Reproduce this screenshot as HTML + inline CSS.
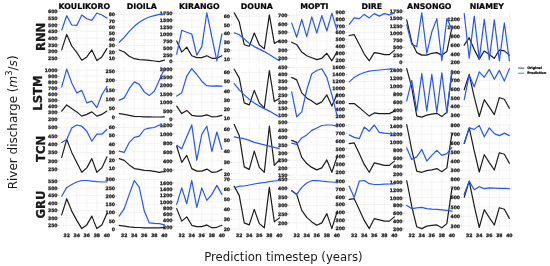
<!DOCTYPE html>
<html><head><meta charset="utf-8"><title>River discharge predictions</title>
<style>html,body{margin:0;padding:0;background:#fff;}svg{display:block;}</style>
</head><body>
<svg width="550" height="266" viewBox="0 0 550 266">
<rect width="550" height="266" fill="#fff"/>
<path d="M66.72 10.6V63.1M76.76 10.6V63.1M86.8 10.6V63.1M96.84 10.6V63.1M106.88 10.6V63.1M59.44 11.2H109.14M59.44 17.9H109.14M59.44 24.6H109.14M59.44 31.3H109.14M59.44 38H109.14M59.44 44.7H109.14M59.44 51.4H109.14M59.44 58.1H109.14M124.22 10.6V63.1M134.26 10.6V63.1M144.3 10.6V63.1M154.34 10.6V63.1M164.38 10.6V63.1M116.94 14.5H166.64M116.94 20.7H166.64M116.94 26.9H166.64M116.94 33.1H166.64M116.94 39.3H166.64M116.94 45.5H166.64M116.94 51.7H166.64M116.94 57.9H166.64M181.72 10.6V63.1M191.76 10.6V63.1M201.8 10.6V63.1M211.84 10.6V63.1M221.88 10.6V63.1M174.44 13.3H224.14M174.44 20.19H224.14M174.44 27.07H224.14M174.44 33.96H224.14M174.44 40.84H224.14M174.44 47.73H224.14M174.44 54.61H224.14M174.44 61.5H224.14M239.22 10.6V63.1M249.26 10.6V63.1M259.3 10.6V63.1M269.34 10.6V63.1M279.38 10.6V63.1M231.94 16.4H281.64M231.94 24.88H281.64M231.94 33.36H281.64M231.94 41.84H281.64M231.94 50.32H281.64M231.94 58.8H281.64M296.72 10.6V63.1M306.76 10.6V63.1M316.8 10.6V63.1M326.84 10.6V63.1M336.88 10.6V63.1M289.44 15.4H339.14M289.44 23.98H339.14M289.44 32.56H339.14M289.44 41.14H339.14M289.44 49.72H339.14M289.44 58.3H339.14M354.22 10.6V63.1M364.26 10.6V63.1M374.3 10.6V63.1M384.34 10.6V63.1M394.38 10.6V63.1M346.94 11.9H396.64M346.94 18.77H396.64M346.94 25.64H396.64M346.94 32.51H396.64M346.94 39.39H396.64M346.94 46.26H396.64M346.94 53.13H396.64M346.94 60H396.64M411.72 10.6V63.1M421.76 10.6V63.1M431.8 10.6V63.1M441.84 10.6V63.1M451.88 10.6V63.1M404.44 11.2H454.14M404.44 18.46H454.14M404.44 25.71H454.14M404.44 32.97H454.14M404.44 40.23H454.14M404.44 47.49H454.14M404.44 54.74H454.14M404.44 62H454.14M469.22 10.6V63.1M479.26 10.6V63.1M489.3 10.6V63.1M499.34 10.6V63.1M509.38 10.6V63.1M461.94 18.6H511.64M461.94 27.38H511.64M461.94 36.16H511.64M461.94 44.94H511.64M461.94 53.72H511.64M461.94 62.5H511.64M66.72 66.9V119.4M76.76 66.9V119.4M86.8 66.9V119.4M96.84 66.9V119.4M106.88 66.9V119.4M59.44 70H109.14M59.44 76.08H109.14M59.44 82.15H109.14M59.44 88.22H109.14M59.44 94.3H109.14M59.44 100.38H109.14M59.44 106.45H109.14M59.44 112.52H109.14M59.44 118.6H109.14M124.22 66.9V119.4M134.26 66.9V119.4M144.3 66.9V119.4M154.34 66.9V119.4M164.38 66.9V119.4M116.94 71.2H166.64M116.94 80.46H166.64M116.94 89.72H166.64M116.94 98.98H166.64M116.94 108.24H166.64M116.94 117.5H166.64M181.72 66.9V119.4M191.76 66.9V119.4M201.8 66.9V119.4M211.84 66.9V119.4M221.88 66.9V119.4M174.44 68.7H224.14M174.44 77.1H224.14M174.44 85.5H224.14M174.44 93.9H224.14M174.44 102.3H224.14M174.44 110.7H224.14M174.44 119.1H224.14M239.22 66.9V119.4M249.26 66.9V119.4M259.3 66.9V119.4M269.34 66.9V119.4M279.38 66.9V119.4M231.94 72.5H281.64M231.94 81.56H281.64M231.94 90.62H281.64M231.94 99.68H281.64M231.94 108.74H281.64M231.94 117.8H281.64M296.72 66.9V119.4M306.76 66.9V119.4M316.8 66.9V119.4M326.84 66.9V119.4M336.88 66.9V119.4M289.44 67.5H339.14M289.44 74.33H339.14M289.44 81.16H339.14M289.44 87.99H339.14M289.44 94.81H339.14M289.44 101.64H339.14M289.44 108.47H339.14M289.44 115.3H339.14M354.22 66.9V119.4M364.26 66.9V119.4M374.3 66.9V119.4M384.34 66.9V119.4M394.38 66.9V119.4M346.94 67.5H396.64M346.94 74.44H396.64M346.94 81.39H396.64M346.94 88.33H396.64M346.94 95.27H396.64M346.94 102.21H396.64M346.94 109.16H396.64M346.94 116.1H396.64M411.72 66.9V119.4M421.76 66.9V119.4M431.8 66.9V119.4M441.84 66.9V119.4M451.88 66.9V119.4M404.44 70.4H454.14M404.44 78.3H454.14M404.44 86.2H454.14M404.44 94.1H454.14M404.44 102H454.14M404.44 109.9H454.14M404.44 117.8H454.14M469.22 66.9V119.4M479.26 66.9V119.4M489.3 66.9V119.4M499.34 66.9V119.4M509.38 66.9V119.4M461.94 71.9H511.64M461.94 80.52H511.64M461.94 89.14H511.64M461.94 97.76H511.64M461.94 106.38H511.64M461.94 115H511.64M66.72 122.6V175.1M76.76 122.6V175.1M86.8 122.6V175.1M96.84 122.6V175.1M106.88 122.6V175.1M59.44 127.5H109.14M59.44 135.82H109.14M59.44 144.14H109.14M59.44 152.46H109.14M59.44 160.78H109.14M59.44 169.1H109.14M124.22 122.6V175.1M134.26 122.6V175.1M144.3 122.6V175.1M154.34 122.6V175.1M164.38 122.6V175.1M116.94 127.5H166.64M116.94 135.58H166.64M116.94 143.66H166.64M116.94 151.74H166.64M116.94 159.82H166.64M116.94 167.9H166.64M181.72 122.6V175.1M191.76 122.6V175.1M201.8 122.6V175.1M211.84 122.6V175.1M221.88 122.6V175.1M174.44 125H224.14M174.44 133.98H224.14M174.44 142.96H224.14M174.44 151.94H224.14M174.44 160.92H224.14M174.44 169.9H224.14M239.22 122.6V175.1M249.26 122.6V175.1M259.3 122.6V175.1M269.34 122.6V175.1M279.38 122.6V175.1M231.94 128.7H281.64M231.94 139.92H281.64M231.94 151.15H281.64M231.94 162.38H281.64M231.94 173.6H281.64M296.72 122.6V175.1M306.76 122.6V175.1M316.8 122.6V175.1M326.84 122.6V175.1M336.88 122.6V175.1M289.44 122.5H339.14M289.44 130.04H339.14M289.44 137.59H339.14M289.44 145.13H339.14M289.44 152.67H339.14M289.44 160.21H339.14M289.44 167.76H339.14M289.44 175.3H339.14M354.22 122.6V175.1M364.26 122.6V175.1M374.3 122.6V175.1M384.34 122.6V175.1M394.38 122.6V175.1M346.94 125.5H396.64M346.94 133.22H396.64M346.94 140.93H396.64M346.94 148.65H396.64M346.94 156.37H396.64M346.94 164.08H396.64M346.94 171.8H396.64M411.72 122.6V175.1M421.76 122.6V175.1M431.8 122.6V175.1M441.84 122.6V175.1M451.88 122.6V175.1M404.44 126.2H454.14M404.44 134.13H454.14M404.44 142.07H454.14M404.44 150H454.14M404.44 157.93H454.14M404.44 165.87H454.14M404.44 173.8H454.14M469.22 122.6V175.1M479.26 122.6V175.1M489.3 122.6V175.1M499.34 122.6V175.1M509.38 122.6V175.1M461.94 124.9H511.64M461.94 133.98H511.64M461.94 143.06H511.64M461.94 152.14H511.64M461.94 161.22H511.64M461.94 170.3H511.64M66.72 178.3V230.8M76.76 178.3V230.8M86.8 178.3V230.8M96.84 178.3V230.8M106.88 178.3V230.8M59.44 180.7H109.14M59.44 188.13H109.14M59.44 195.57H109.14M59.44 203H109.14M59.44 210.43H109.14M59.44 217.87H109.14M59.44 225.3H109.14M124.22 178.3V230.8M134.26 178.3V230.8M144.3 178.3V230.8M154.34 178.3V230.8M164.38 178.3V230.8M116.94 179.5H166.64M116.94 187.77H166.64M116.94 196.03H166.64M116.94 204.3H166.64M116.94 212.57H166.64M116.94 220.83H166.64M116.94 229.1H166.64M181.72 178.3V230.8M191.76 178.3V230.8M201.8 178.3V230.8M211.84 178.3V230.8M221.88 178.3V230.8M174.44 183H224.14M174.44 189.23H224.14M174.44 195.46H224.14M174.44 201.69H224.14M174.44 207.91H224.14M174.44 214.14H224.14M174.44 220.37H224.14M174.44 226.6H224.14M239.22 178.3V230.8M249.26 178.3V230.8M259.3 178.3V230.8M269.34 178.3V230.8M279.38 178.3V230.8M231.94 179.5H281.64M231.94 189.42H281.64M231.94 199.34H281.64M231.94 209.26H281.64M231.94 219.18H281.64M231.94 229.1H281.64M296.72 178.3V230.8M306.76 178.3V230.8M316.8 178.3V230.8M326.84 178.3V230.8M336.88 178.3V230.8M289.44 179.5H339.14M289.44 188.18H339.14M289.44 196.86H339.14M289.44 205.54H339.14M289.44 214.22H339.14M289.44 222.9H339.14M354.22 178.3V230.8M364.26 178.3V230.8M374.3 178.3V230.8M384.34 178.3V230.8M394.38 178.3V230.8M346.94 181.2H396.64M346.94 188.97H396.64M346.94 196.73H396.64M346.94 204.5H396.64M346.94 212.27H396.64M346.94 220.03H396.64M346.94 227.8H396.64M411.72 178.3V230.8M421.76 178.3V230.8M431.8 178.3V230.8M441.84 178.3V230.8M451.88 178.3V230.8M404.44 182H454.14M404.44 189.8H454.14M404.44 197.6H454.14M404.44 205.4H454.14M404.44 213.2H454.14M404.44 221H454.14M404.44 228.8H454.14M469.22 178.3V230.8M479.26 178.3V230.8M489.3 178.3V230.8M499.34 178.3V230.8M509.38 178.3V230.8M461.94 178.6H511.64M461.94 188.04H511.64M461.94 197.48H511.64M461.94 206.92H511.64M461.94 216.36H511.64M461.94 225.8H511.64" stroke="#f0f0f0" stroke-width="0.8" fill="none"/>
<path d="M58.24 11.2H59.44M58.24 17.9H59.44M58.24 24.6H59.44M58.24 31.3H59.44M58.24 38H59.44M58.24 44.7H59.44M58.24 51.4H59.44M58.24 58.1H59.44M115.74 14.5H116.94M115.74 20.7H116.94M115.74 26.9H116.94M115.74 33.1H116.94M115.74 39.3H116.94M115.74 45.5H116.94M115.74 51.7H116.94M115.74 57.9H116.94M173.24 13.3H174.44M173.24 20.19H174.44M173.24 27.07H174.44M173.24 33.96H174.44M173.24 40.84H174.44M173.24 47.73H174.44M173.24 54.61H174.44M173.24 61.5H174.44M230.74 16.4H231.94M230.74 24.88H231.94M230.74 33.36H231.94M230.74 41.84H231.94M230.74 50.32H231.94M230.74 58.8H231.94M288.24 15.4H289.44M288.24 23.98H289.44M288.24 32.56H289.44M288.24 41.14H289.44M288.24 49.72H289.44M288.24 58.3H289.44M345.74 11.9H346.94M345.74 18.77H346.94M345.74 25.64H346.94M345.74 32.51H346.94M345.74 39.39H346.94M345.74 46.26H346.94M345.74 53.13H346.94M345.74 60H346.94M403.24 11.2H404.44M403.24 18.46H404.44M403.24 25.71H404.44M403.24 32.97H404.44M403.24 40.23H404.44M403.24 47.49H404.44M403.24 54.74H404.44M403.24 62H404.44M460.74 18.6H461.94M460.74 27.38H461.94M460.74 36.16H461.94M460.74 44.94H461.94M460.74 53.72H461.94M460.74 62.5H461.94M58.24 70H59.44M58.24 76.08H59.44M58.24 82.15H59.44M58.24 88.22H59.44M58.24 94.3H59.44M58.24 100.38H59.44M58.24 106.45H59.44M58.24 112.52H59.44M58.24 118.6H59.44M115.74 71.2H116.94M115.74 80.46H116.94M115.74 89.72H116.94M115.74 98.98H116.94M115.74 108.24H116.94M115.74 117.5H116.94M173.24 68.7H174.44M173.24 77.1H174.44M173.24 85.5H174.44M173.24 93.9H174.44M173.24 102.3H174.44M173.24 110.7H174.44M173.24 119.1H174.44M230.74 72.5H231.94M230.74 81.56H231.94M230.74 90.62H231.94M230.74 99.68H231.94M230.74 108.74H231.94M230.74 117.8H231.94M288.24 67.5H289.44M288.24 74.33H289.44M288.24 81.16H289.44M288.24 87.99H289.44M288.24 94.81H289.44M288.24 101.64H289.44M288.24 108.47H289.44M288.24 115.3H289.44M345.74 67.5H346.94M345.74 74.44H346.94M345.74 81.39H346.94M345.74 88.33H346.94M345.74 95.27H346.94M345.74 102.21H346.94M345.74 109.16H346.94M345.74 116.1H346.94M403.24 70.4H404.44M403.24 78.3H404.44M403.24 86.2H404.44M403.24 94.1H404.44M403.24 102H404.44M403.24 109.9H404.44M403.24 117.8H404.44M460.74 71.9H461.94M460.74 80.52H461.94M460.74 89.14H461.94M460.74 97.76H461.94M460.74 106.38H461.94M460.74 115H461.94M58.24 127.5H59.44M58.24 135.82H59.44M58.24 144.14H59.44M58.24 152.46H59.44M58.24 160.78H59.44M58.24 169.1H59.44M115.74 127.5H116.94M115.74 135.58H116.94M115.74 143.66H116.94M115.74 151.74H116.94M115.74 159.82H116.94M115.74 167.9H116.94M173.24 125H174.44M173.24 133.98H174.44M173.24 142.96H174.44M173.24 151.94H174.44M173.24 160.92H174.44M173.24 169.9H174.44M230.74 128.7H231.94M230.74 139.92H231.94M230.74 151.15H231.94M230.74 162.38H231.94M230.74 173.6H231.94M288.24 122.5H289.44M288.24 130.04H289.44M288.24 137.59H289.44M288.24 145.13H289.44M288.24 152.67H289.44M288.24 160.21H289.44M288.24 167.76H289.44M288.24 175.3H289.44M345.74 125.5H346.94M345.74 133.22H346.94M345.74 140.93H346.94M345.74 148.65H346.94M345.74 156.37H346.94M345.74 164.08H346.94M345.74 171.8H346.94M403.24 126.2H404.44M403.24 134.13H404.44M403.24 142.07H404.44M403.24 150H404.44M403.24 157.93H404.44M403.24 165.87H404.44M403.24 173.8H404.44M460.74 124.9H461.94M460.74 133.98H461.94M460.74 143.06H461.94M460.74 152.14H461.94M460.74 161.22H461.94M460.74 170.3H461.94M58.24 180.7H59.44M58.24 188.13H59.44M58.24 195.57H59.44M58.24 203H59.44M58.24 210.43H59.44M58.24 217.87H59.44M58.24 225.3H59.44M115.74 179.5H116.94M115.74 187.77H116.94M115.74 196.03H116.94M115.74 204.3H116.94M115.74 212.57H116.94M115.74 220.83H116.94M115.74 229.1H116.94M173.24 183H174.44M173.24 189.23H174.44M173.24 195.46H174.44M173.24 201.69H174.44M173.24 207.91H174.44M173.24 214.14H174.44M173.24 220.37H174.44M173.24 226.6H174.44M230.74 179.5H231.94M230.74 189.42H231.94M230.74 199.34H231.94M230.74 209.26H231.94M230.74 219.18H231.94M230.74 229.1H231.94M288.24 179.5H289.44M288.24 188.18H289.44M288.24 196.86H289.44M288.24 205.54H289.44M288.24 214.22H289.44M288.24 222.9H289.44M345.74 181.2H346.94M345.74 188.97H346.94M345.74 196.73H346.94M345.74 204.5H346.94M345.74 212.27H346.94M345.74 220.03H346.94M345.74 227.8H346.94M403.24 182H404.44M403.24 189.8H404.44M403.24 197.6H404.44M403.24 205.4H404.44M403.24 213.2H404.44M403.24 221H404.44M403.24 228.8H404.44M460.74 178.6H461.94M460.74 188.04H461.94M460.74 197.48H461.94M460.74 206.92H461.94M460.74 216.36H461.94M460.74 225.8H461.94" stroke="#9a9a9a" stroke-width="0.6" fill="none"/>
<g fill="#262626" font-family="DejaVu Sans, sans-serif" font-weight="bold" font-size="4.6" text-anchor="end" stroke="#262626" stroke-width="0.3">
<text x="57.54" y="13.1">600</text>
<text x="57.54" y="19.8">550</text>
<text x="57.54" y="26.5">500</text>
<text x="57.54" y="33.2">450</text>
<text x="57.54" y="39.9">400</text>
<text x="57.54" y="46.6">350</text>
<text x="57.54" y="53.3">300</text>
<text x="57.54" y="60">250</text>
<text x="115.04" y="16.4">80</text>
<text x="115.04" y="22.6">70</text>
<text x="115.04" y="28.8">60</text>
<text x="115.04" y="35">50</text>
<text x="115.04" y="41.2">40</text>
<text x="115.04" y="47.4">30</text>
<text x="115.04" y="53.6">20</text>
<text x="115.04" y="59.8">10</text>
<text x="172.54" y="15.2">1750</text>
<text x="172.54" y="22.09">1500</text>
<text x="172.54" y="28.97">1250</text>
<text x="172.54" y="35.86">1000</text>
<text x="172.54" y="42.74">750</text>
<text x="172.54" y="49.63">500</text>
<text x="172.54" y="56.51">250</text>
<text x="172.54" y="63.4">0</text>
<text x="230.04" y="18.3">60</text>
<text x="230.04" y="26.78">50</text>
<text x="230.04" y="35.26">40</text>
<text x="230.04" y="43.74">30</text>
<text x="230.04" y="52.22">20</text>
<text x="230.04" y="60.7">10</text>
<text x="287.54" y="17.3">700</text>
<text x="287.54" y="25.88">600</text>
<text x="287.54" y="34.46">500</text>
<text x="287.54" y="43.04">400</text>
<text x="287.54" y="51.62">300</text>
<text x="287.54" y="60.2">200</text>
<text x="345.04" y="13.8">900</text>
<text x="345.04" y="20.67">800</text>
<text x="345.04" y="27.54">700</text>
<text x="345.04" y="34.41">600</text>
<text x="345.04" y="41.29">500</text>
<text x="345.04" y="48.16">400</text>
<text x="345.04" y="55.03">300</text>
<text x="345.04" y="61.9">200</text>
<text x="402.54" y="13.1">1750</text>
<text x="402.54" y="20.36">1500</text>
<text x="402.54" y="27.61">1250</text>
<text x="402.54" y="34.87">1000</text>
<text x="402.54" y="42.13">750</text>
<text x="402.54" y="49.39">500</text>
<text x="402.54" y="56.64">250</text>
<text x="402.54" y="63.9">0</text>
<text x="460.04" y="20.5">1200</text>
<text x="460.04" y="29.28">1000</text>
<text x="460.04" y="38.06">800</text>
<text x="460.04" y="46.84">600</text>
<text x="460.04" y="55.62">400</text>
<text x="460.04" y="64.4">200</text>
<text x="57.54" y="71.9">1000</text>
<text x="57.54" y="77.98">900</text>
<text x="57.54" y="84.05">800</text>
<text x="57.54" y="90.12">700</text>
<text x="57.54" y="96.2">600</text>
<text x="57.54" y="102.28">500</text>
<text x="57.54" y="108.35">400</text>
<text x="57.54" y="114.42">300</text>
<text x="57.54" y="120.5">200</text>
<text x="115.04" y="73.1">250</text>
<text x="115.04" y="82.36">200</text>
<text x="115.04" y="91.62">150</text>
<text x="115.04" y="100.88">100</text>
<text x="115.04" y="110.14">50</text>
<text x="115.04" y="119.4">0</text>
<text x="172.54" y="70.6">3000</text>
<text x="172.54" y="79">2500</text>
<text x="172.54" y="87.4">2000</text>
<text x="172.54" y="95.8">1500</text>
<text x="172.54" y="104.2">1000</text>
<text x="172.54" y="112.6">500</text>
<text x="172.54" y="121">0</text>
<text x="230.04" y="74.4">60</text>
<text x="230.04" y="83.46">50</text>
<text x="230.04" y="92.52">40</text>
<text x="230.04" y="101.58">30</text>
<text x="230.04" y="110.64">20</text>
<text x="230.04" y="119.7">10</text>
<text x="287.54" y="69.4">450</text>
<text x="287.54" y="76.23">400</text>
<text x="287.54" y="83.06">350</text>
<text x="287.54" y="89.89">300</text>
<text x="287.54" y="96.71">250</text>
<text x="287.54" y="103.54">200</text>
<text x="287.54" y="110.37">150</text>
<text x="287.54" y="117.2">100</text>
<text x="345.04" y="69.4">1600</text>
<text x="345.04" y="76.34">1400</text>
<text x="345.04" y="83.29">1200</text>
<text x="345.04" y="90.23">1000</text>
<text x="345.04" y="97.17">800</text>
<text x="345.04" y="104.11">600</text>
<text x="345.04" y="111.06">400</text>
<text x="345.04" y="118">200</text>
<text x="402.54" y="72.3">1400</text>
<text x="402.54" y="80.2">1200</text>
<text x="402.54" y="88.1">1000</text>
<text x="402.54" y="96">800</text>
<text x="402.54" y="103.9">600</text>
<text x="402.54" y="111.8">400</text>
<text x="402.54" y="119.7">200</text>
<text x="460.04" y="73.8">800</text>
<text x="460.04" y="82.42">700</text>
<text x="460.04" y="91.04">600</text>
<text x="460.04" y="99.66">500</text>
<text x="460.04" y="108.28">400</text>
<text x="460.04" y="116.9">300</text>
<text x="57.54" y="129.4">500</text>
<text x="57.54" y="137.72">450</text>
<text x="57.54" y="146.04">400</text>
<text x="57.54" y="154.36">350</text>
<text x="57.54" y="162.68">300</text>
<text x="57.54" y="171">250</text>
<text x="115.04" y="129.4">60</text>
<text x="115.04" y="137.48">50</text>
<text x="115.04" y="145.56">40</text>
<text x="115.04" y="153.64">30</text>
<text x="115.04" y="161.72">20</text>
<text x="115.04" y="169.8">10</text>
<text x="172.54" y="126.9">1200</text>
<text x="172.54" y="135.88">1000</text>
<text x="172.54" y="144.86">800</text>
<text x="172.54" y="153.84">600</text>
<text x="172.54" y="162.82">400</text>
<text x="172.54" y="171.8">200</text>
<text x="230.04" y="130.6">60</text>
<text x="230.04" y="141.82">50</text>
<text x="230.04" y="153.05">40</text>
<text x="230.04" y="164.28">30</text>
<text x="230.04" y="175.5">20</text>
<text x="287.54" y="124.4">500</text>
<text x="287.54" y="131.94">450</text>
<text x="287.54" y="139.49">400</text>
<text x="287.54" y="147.03">350</text>
<text x="287.54" y="154.57">300</text>
<text x="287.54" y="162.11">250</text>
<text x="287.54" y="169.66">200</text>
<text x="287.54" y="177.2">150</text>
<text x="345.04" y="127.4">800</text>
<text x="345.04" y="135.12">700</text>
<text x="345.04" y="142.83">600</text>
<text x="345.04" y="150.55">500</text>
<text x="345.04" y="158.27">400</text>
<text x="345.04" y="165.98">300</text>
<text x="345.04" y="173.7">200</text>
<text x="402.54" y="128.1">1400</text>
<text x="402.54" y="136.03">1200</text>
<text x="402.54" y="143.97">1000</text>
<text x="402.54" y="151.9">800</text>
<text x="402.54" y="159.83">600</text>
<text x="402.54" y="167.77">400</text>
<text x="402.54" y="175.7">200</text>
<text x="460.04" y="126.8">800</text>
<text x="460.04" y="135.88">700</text>
<text x="460.04" y="144.96">600</text>
<text x="460.04" y="154.04">500</text>
<text x="460.04" y="163.12">400</text>
<text x="460.04" y="172.2">300</text>
<text x="57.54" y="182.6">550</text>
<text x="57.54" y="190.03">500</text>
<text x="57.54" y="197.47">450</text>
<text x="57.54" y="204.9">400</text>
<text x="57.54" y="212.33">350</text>
<text x="57.54" y="219.77">300</text>
<text x="57.54" y="227.2">250</text>
<text x="66.72" y="237" text-anchor="middle">32</text>
<text x="76.76" y="237" text-anchor="middle">34</text>
<text x="86.8" y="237" text-anchor="middle">36</text>
<text x="96.84" y="237" text-anchor="middle">38</text>
<text x="106.88" y="237" text-anchor="middle">40</text>
<text x="115.04" y="181.4">300</text>
<text x="115.04" y="189.67">250</text>
<text x="115.04" y="197.93">200</text>
<text x="115.04" y="206.2">150</text>
<text x="115.04" y="214.47">100</text>
<text x="115.04" y="222.73">50</text>
<text x="115.04" y="231">0</text>
<text x="124.22" y="237" text-anchor="middle">32</text>
<text x="134.26" y="237" text-anchor="middle">34</text>
<text x="144.3" y="237" text-anchor="middle">36</text>
<text x="154.34" y="237" text-anchor="middle">38</text>
<text x="164.38" y="237" text-anchor="middle">40</text>
<text x="172.54" y="184.9">1600</text>
<text x="172.54" y="191.13">1400</text>
<text x="172.54" y="197.36">1200</text>
<text x="172.54" y="203.59">1000</text>
<text x="172.54" y="209.81">800</text>
<text x="172.54" y="216.04">600</text>
<text x="172.54" y="222.27">400</text>
<text x="172.54" y="228.5">200</text>
<text x="181.72" y="237" text-anchor="middle">32</text>
<text x="191.76" y="237" text-anchor="middle">34</text>
<text x="201.8" y="237" text-anchor="middle">36</text>
<text x="211.84" y="237" text-anchor="middle">38</text>
<text x="221.88" y="237" text-anchor="middle">40</text>
<text x="230.04" y="181.4">70</text>
<text x="230.04" y="191.32">60</text>
<text x="230.04" y="201.24">50</text>
<text x="230.04" y="211.16">40</text>
<text x="230.04" y="221.08">30</text>
<text x="230.04" y="231">20</text>
<text x="239.22" y="237" text-anchor="middle">32</text>
<text x="249.26" y="237" text-anchor="middle">34</text>
<text x="259.3" y="237" text-anchor="middle">36</text>
<text x="269.34" y="237" text-anchor="middle">38</text>
<text x="279.38" y="237" text-anchor="middle">40</text>
<text x="287.54" y="181.4">450</text>
<text x="287.54" y="190.08">400</text>
<text x="287.54" y="198.76">350</text>
<text x="287.54" y="207.44">300</text>
<text x="287.54" y="216.12">250</text>
<text x="287.54" y="224.8">200</text>
<text x="296.72" y="237" text-anchor="middle">32</text>
<text x="306.76" y="237" text-anchor="middle">34</text>
<text x="316.8" y="237" text-anchor="middle">36</text>
<text x="326.84" y="237" text-anchor="middle">38</text>
<text x="336.88" y="237" text-anchor="middle">40</text>
<text x="345.04" y="183.1">800</text>
<text x="345.04" y="190.87">700</text>
<text x="345.04" y="198.63">600</text>
<text x="345.04" y="206.4">500</text>
<text x="345.04" y="214.17">400</text>
<text x="345.04" y="221.93">300</text>
<text x="345.04" y="229.7">200</text>
<text x="354.22" y="237" text-anchor="middle">32</text>
<text x="364.26" y="237" text-anchor="middle">34</text>
<text x="374.3" y="237" text-anchor="middle">36</text>
<text x="384.34" y="237" text-anchor="middle">38</text>
<text x="394.38" y="237" text-anchor="middle">40</text>
<text x="402.54" y="183.9">1400</text>
<text x="402.54" y="191.7">1200</text>
<text x="402.54" y="199.5">1000</text>
<text x="402.54" y="207.3">800</text>
<text x="402.54" y="215.1">600</text>
<text x="402.54" y="222.9">400</text>
<text x="402.54" y="230.7">200</text>
<text x="411.72" y="237" text-anchor="middle">32</text>
<text x="421.76" y="237" text-anchor="middle">34</text>
<text x="431.8" y="237" text-anchor="middle">36</text>
<text x="441.84" y="237" text-anchor="middle">38</text>
<text x="451.88" y="237" text-anchor="middle">40</text>
<text x="460.04" y="180.5">800</text>
<text x="460.04" y="189.94">700</text>
<text x="460.04" y="199.38">600</text>
<text x="460.04" y="208.82">500</text>
<text x="460.04" y="218.26">400</text>
<text x="460.04" y="227.7">300</text>
<text x="469.22" y="237" text-anchor="middle">32</text>
<text x="479.26" y="237" text-anchor="middle">34</text>
<text x="489.3" y="237" text-anchor="middle">36</text>
<text x="499.34" y="237" text-anchor="middle">38</text>
<text x="509.38" y="237" text-anchor="middle">40</text>
</g>
<g fill="none" stroke-width="1.2" stroke-linejoin="round" stroke-linecap="round">
<polyline points="61.7,49.9 66.72,34.4 71.74,46 76.76,52.4 81.78,60.3 86.8,56.9 91.82,49.9 96.84,60.6 101.86,56.9 106.88,48.6" stroke="#1c1c1c"/>
<polyline points="61.7,30 66.72,15.7 71.74,25 76.76,25.4 81.78,15 86.8,18.7 91.82,20.4 96.84,13 101.86,15 106.88,18" stroke="#2356ff"/>
<polyline points="119.2,50 124.22,52 129.24,56.2 134.26,58.7 139.28,59.6 144.3,59.9 149.32,60.3 154.34,61 159.36,61.6 164.38,60.2" stroke="#1c1c1c"/>
<polyline points="119.2,42.3 124.22,37.4 129.24,31.4 134.26,26.3 139.28,22.3 144.3,19.2 149.32,17 154.34,15.6 159.36,14.4 164.38,13.6" stroke="#2356ff"/>
<polyline points="176.7,41 181.72,52.1 186.74,47.1 191.76,55.8 196.78,57.6 201.8,57.6 206.82,55.8 211.84,58.3 216.86,58.3 221.88,55.8" stroke="#1c1c1c"/>
<polyline points="176.7,54.1 181.72,30.3 186.74,32.2 191.76,34 196.78,55.1 201.8,46.6 206.82,12.9 211.84,36.8 216.86,60.8 221.88,34.2" stroke="#2356ff"/>
<polyline points="234.2,12.9 239.22,21.8 244.24,44.7 249.26,46.2 254.28,33 259.3,44.7 264.32,48.9 269.34,14.9 274.36,43.4 279.38,40.4" stroke="#1c1c1c"/>
<polyline points="234.2,32.8 239.22,34.7 244.24,39 249.26,43.4 254.28,46.6 259.3,49.1 264.32,51.6 269.34,54.6 274.36,57.8 279.38,60.8" stroke="#2356ff"/>
<polyline points="291.7,42.2 296.72,44.7 301.74,52.1 306.76,55.8 311.78,57.8 316.8,59.6 321.82,58.3 326.84,53.3 331.86,60.8 336.88,52.1" stroke="#1c1c1c"/>
<polyline points="291.7,23.1 296.72,37.2 301.74,19.4 306.76,36.7 311.78,16.9 316.8,33 321.82,15.6 326.84,31 331.86,13.2 336.88,29.8" stroke="#2356ff"/>
<polyline points="349.2,35.5 354.22,34.7 359.24,44.2 364.26,54.1 369.28,60.8 374.3,52.6 379.32,53.3 384.34,54.6 389.36,54.6 394.38,50.4" stroke="#1c1c1c"/>
<polyline points="349.2,24.3 354.22,17.9 359.24,18.6 364.26,14.4 369.28,17.9 374.3,13.6 379.32,16.1 384.34,13.6 389.36,14.9 394.38,12.9" stroke="#2356ff"/>
<polyline points="406.7,19.9 411.72,42.2 416.74,52.6 421.76,55.1 426.78,55.1 431.8,53.3 436.82,52.6 441.84,55.1 446.86,51.6 451.88,27.7" stroke="#1c1c1c"/>
<polyline points="406.7,24.8 411.72,44.2 416.74,46.6 421.76,12.9 426.78,53.3 431.8,32 436.82,18.6 441.84,60.7 446.86,18.6 451.88,29.2" stroke="#2356ff"/>
<polyline points="464.2,45.2 469.22,37.7 474.24,49.6 479.26,59.1 484.28,50.9 489.3,54.6 494.32,58.3 499.34,50.1 504.36,50.9 509.38,55.1" stroke="#1c1c1c"/>
<polyline points="464.2,13.6 469.22,58.3 474.24,16.1 479.26,59.1 484.28,19.4 489.3,59.6 494.32,19.9 499.34,60.8 504.36,22.8 509.38,60.8" stroke="#2356ff"/>
<polyline points="61.7,111.1 66.72,104.9 71.74,108.6 76.76,111.9 81.78,116.1 86.8,114.4 91.82,111.9 96.84,116.1 101.86,114.4 106.88,111.1" stroke="#1c1c1c"/>
<polyline points="61.7,86.9 66.72,69.2 71.74,82.9 76.76,92.9 81.78,90.4 86.8,102.9 91.82,101.1 96.84,107.6 101.86,94.8 106.88,86.5" stroke="#2356ff"/>
<polyline points="119.2,113.6 124.22,114.4 129.24,115.3 134.26,116.3 139.28,116.5 144.3,116.8 149.32,116.8 154.34,117 159.36,117 164.38,116.8" stroke="#1c1c1c"/>
<polyline points="119.2,100.4 124.22,97.9 129.24,88.7 134.26,81.9 139.28,84.4 144.3,91.9 149.32,95.4 154.34,91.2 159.36,79.9 164.38,68.7" stroke="#2356ff"/>
<polyline points="176.7,106.1 181.72,113.6 186.74,110.4 191.76,115.3 196.78,116.1 201.8,116.1 206.82,114.9 211.84,116.8 216.86,116.6 221.88,115.3" stroke="#1c1c1c"/>
<polyline points="176.7,96.1 181.72,92.9 186.74,76.2 191.76,68.7 196.78,74.5 201.8,81.2 206.82,85.7 211.84,86.2 216.86,85.9 221.88,86.2" stroke="#2356ff"/>
<polyline points="234.2,69.2 239.22,77.9 244.24,102.9 249.26,104.9 254.28,90.4 259.3,102.9 264.32,107.9 269.34,70.5 274.36,101.6 279.38,98.6" stroke="#1c1c1c"/>
<polyline points="234.2,83.7 239.22,89.9 244.24,94.9 249.26,99.4 254.28,103.1 259.3,106.1 264.32,108.6 269.34,111.1 274.36,114.1 279.38,116.8" stroke="#2356ff"/>
<polyline points="291.7,77.4 296.72,79.9 301.74,92.9 306.76,97.9 311.78,101.1 316.8,104.4 321.82,101.9 326.84,94.9 331.86,106.1 336.88,94.4" stroke="#1c1c1c"/>
<polyline points="291.7,91.9 296.72,116.8 301.74,111.9 306.76,89.9 311.78,73.7 316.8,70.5 321.82,68.7 326.84,77.4 331.86,94.9 336.88,114.9" stroke="#2356ff"/>
<polyline points="349.2,103.6 354.22,103.6 359.24,107.4 364.26,111.9 369.28,116.1 374.3,112.9 379.32,113.6 384.34,113.6 389.36,113.6 394.38,111.1" stroke="#1c1c1c"/>
<polyline points="349.2,81.9 354.22,77.4 359.24,74.5 364.26,72.5 369.28,71.2 374.3,70.5 379.32,70 384.34,69.5 389.36,69.2 394.38,69.2" stroke="#2356ff"/>
<polyline points="406.7,68.7 411.72,87.3 416.74,115.8 421.76,117.1 426.78,115.1 431.8,114.1 436.82,113.3 441.84,116.6 446.86,112.1 451.88,72.4" stroke="#1c1c1c"/>
<polyline points="406.7,100.9 411.72,80.3 416.74,110.9 421.76,73.6 426.78,110.9 431.8,74.4 436.82,112.1 441.84,72.9 446.86,113.3 451.88,70.4" stroke="#2356ff"/>
<polyline points="464.2,89.7 469.22,74.4 474.24,97.2 479.26,116.5 484.28,99.7 489.3,107.1 494.32,114.6 499.34,97.7 504.36,99.2 509.38,108.3" stroke="#1c1c1c"/>
<polyline points="464.2,99.7 469.22,75.3 474.24,86.8 479.26,71.9 484.28,77.3 489.3,69.4 494.32,79.3 499.34,70.4 504.36,81.1 509.38,68.6" stroke="#2356ff"/>
<polyline points="61.7,157.4 66.72,139.4 71.74,152.4 76.76,162.4 81.78,172.3 86.8,167.9 91.82,158.6 96.84,172.3 101.86,167.9 106.88,156.9" stroke="#1c1c1c"/>
<polyline points="61.7,142.4 66.72,139.4 71.74,128 76.76,125 81.78,126.2 86.8,131.2 91.82,141.2 96.84,134.2 101.86,134.2 106.88,129.5" stroke="#2356ff"/>
<polyline points="119.2,158.6 124.22,160.4 129.24,164.9 134.26,168.6 139.28,169.4 144.3,170.3 149.32,170.6 154.34,171.3 159.36,172.3 164.38,171.3" stroke="#1c1c1c"/>
<polyline points="119.2,151.1 124.22,152.4 129.24,142.4 134.26,137.4 139.28,136.2 144.3,129.5 149.32,128.2 154.34,127.5 159.36,125 164.38,125.5" stroke="#2356ff"/>
<polyline points="176.7,146.2 181.72,162.4 186.74,155.4 191.76,168.6 196.78,171.1 201.8,171.1 206.82,169.1 211.84,172.3 216.86,171.8 221.88,169.4" stroke="#1c1c1c"/>
<polyline points="176.7,145.3 181.72,148.8 186.74,136.8 191.76,124.9 196.78,160.2 201.8,134.4 206.82,126.2 211.84,151.5 216.86,132 221.88,149.5" stroke="#2356ff"/>
<polyline points="234.2,124.5 239.22,135.4 244.24,166.9 249.26,169.4 254.28,151.1 259.3,167.4 264.32,172.3 269.34,126.2 274.36,165.4 279.38,159.9" stroke="#1c1c1c"/>
<polyline points="234.2,136.9 239.22,137.9 244.24,138.7 249.26,140.4 254.28,142.4 259.3,143.7 264.32,144.9 269.34,146.2 274.36,147.4 279.38,148.7" stroke="#2356ff"/>
<polyline points="291.7,140.4 296.72,142.4 301.74,157.4 306.76,163.6 311.78,167.4 316.8,169.9 321.82,167.9 326.84,159.9 331.86,172.3 336.88,157.4" stroke="#1c1c1c"/>
<polyline points="291.7,143.2 296.72,144.4 301.74,137.9 306.76,134.9 311.78,130.4 316.8,128 321.82,125.5 326.84,125 331.86,125 336.88,126.2" stroke="#2356ff"/>
<polyline points="349.2,143.7 354.22,142.9 359.24,153.6 364.26,164.4 369.28,172.3 374.3,162.9 379.32,164.1 384.34,165.4 389.36,165.4 394.38,161.1" stroke="#1c1c1c"/>
<polyline points="349.2,134.9 354.22,137.4 359.24,138.7 364.26,127 369.28,131.2 374.3,125 379.32,132.4 384.34,133.2 389.36,133.7 394.38,134.2" stroke="#2356ff"/>
<polyline points="406.7,124.5 411.72,149.9 416.74,171.1 421.76,172.3 426.78,170.6 431.8,169.9 436.82,168.6 441.84,171.8 446.86,167.9 451.88,133.7" stroke="#1c1c1c"/>
<polyline points="406.7,147.9 411.72,159.4 416.74,156.9 421.76,149.4 426.78,161.1 431.8,155.4 436.82,150.4 441.84,155.4 446.86,153.6 451.88,147.4" stroke="#2356ff"/>
<polyline points="464.2,143.5 469.22,127.9 474.24,150.9 479.26,172 484.28,154.7 489.3,162.6 494.32,170 499.34,152.7 504.36,154.2 509.38,163.3" stroke="#1c1c1c"/>
<polyline points="464.2,143.5 469.22,127.9 474.24,129.4 479.26,125.4 484.28,136.8 489.3,127.9 494.32,133.6 499.34,135.6 504.36,133.1 509.38,135.6" stroke="#2356ff"/>
<polyline points="61.7,214.9 66.72,198.7 71.74,211.1 76.76,220.4 81.78,228.6 86.8,224.9 91.82,216.1 96.84,228.6 101.86,224.9 106.88,213.6" stroke="#1c1c1c"/>
<polyline points="61.7,196.2 66.72,187.4 71.74,184.5 76.76,182 81.78,180.5 86.8,180.5 91.82,181.2 96.84,181.7 101.86,182 106.88,182" stroke="#2356ff"/>
<polyline points="119.2,225.3 124.22,226.1 129.24,226.8 134.26,227.3 139.28,227.5 144.3,227.8 149.32,227.8 154.34,227.8 159.36,227.8 164.38,227.3" stroke="#1c1c1c"/>
<polyline points="119.2,216.1 124.22,208.6 129.24,194.4 134.26,180.5 139.28,187.4 144.3,211.1 149.32,222.9 154.34,223.4 159.36,223.6 164.38,224.9" stroke="#2356ff"/>
<polyline points="176.7,208.6 181.72,221.1 186.74,216.9 191.76,225.3 196.78,226.6 201.8,226.6 206.82,224.9 211.84,227.8 216.86,227.3 221.88,225.3" stroke="#1c1c1c"/>
<polyline points="176.7,204.4 181.72,187.9 186.74,203.7 191.76,180.5 196.78,207.4 201.8,187.9 206.82,200.4 211.84,194.4 216.86,185.4 221.88,194.4" stroke="#2356ff"/>
<polyline points="234.2,186.2 239.22,195.4 244.24,222.9 249.26,224.9 254.28,209.4 259.3,223.6 264.32,227.8 269.34,187.4 274.36,221.9 279.38,217.9" stroke="#1c1c1c"/>
<polyline points="234.2,187.9 239.22,186.2 244.24,186 249.26,185 254.28,184 259.3,183.2 264.32,182.5 269.34,181.7 274.36,181 279.38,180.5" stroke="#2356ff"/>
<polyline points="291.7,190.7 296.72,194.4 301.74,210.4 306.76,217.4 311.78,221.9 316.8,225.3 321.82,222.9 326.84,213.6 331.86,228.6 336.88,212.4" stroke="#1c1c1c"/>
<polyline points="291.7,190.7 296.72,194.4 301.74,187.4 306.76,183 311.78,180.7 316.8,180.5 321.82,181.2 326.84,181.7 331.86,182 336.88,182.5" stroke="#2356ff"/>
<polyline points="349.2,199.4 354.22,198.7 359.24,209.4 364.26,220.4 369.28,228.6 374.3,218.6 379.32,219.9 384.34,221.1 389.36,221.1 394.38,216.9" stroke="#1c1c1c"/>
<polyline points="349.2,186.2 354.22,197.4 359.24,181.2 364.26,180.5 369.28,183.7 374.3,184.5 379.32,184.5 384.34,184.2 389.36,184 394.38,184" stroke="#2356ff"/>
<polyline points="406.7,180.5 411.72,206.1 416.74,226.8 421.76,228.6 426.78,226.1 431.8,225.3 436.82,224.9 441.84,227.8 446.86,223.6 451.88,188.7" stroke="#1c1c1c"/>
<polyline points="406.7,205.4 411.72,208.6 416.74,207.9 421.76,207.4 426.78,208.6 431.8,209.1 436.82,209.4 441.84,209.9 446.86,210.4 451.88,211.1" stroke="#2356ff"/>
<polyline points="464.2,197.3 469.22,181.1 474.24,205.9 479.26,227.5 484.28,209.7 489.3,217.6 494.32,225 499.34,207.7 504.36,209.2 509.38,218.4" stroke="#1c1c1c"/>
<polyline points="464.2,194.3 469.22,181.1 474.24,189.8 479.26,186.8 484.28,188.6 489.3,187.8 494.32,188.1 499.34,188.3 504.36,188.3 509.38,188.6" stroke="#2356ff"/>
</g>
<g fill="#000" stroke="#000" stroke-width="0.2" font-family="DejaVu Sans, sans-serif" font-weight="bold" font-size="7.8" text-anchor="middle">
<text x="84.29" y="9">KOULIKORO</text>
<text x="141.79" y="9">DIOILA</text>
<text x="199.29" y="9">KIRANGO</text>
<text x="256.79" y="9">DOUNA</text>
<text x="314.29" y="9">MOPTI</text>
<text x="371.79" y="9">DIRE</text>
<text x="429.29" y="9">ANSONGO</text>
<text x="486.79" y="9">NIAMEY</text>
</g>
<g fill="#1a1a1a" stroke="#1a1a1a" stroke-width="0.3" font-family="DejaVu Sans, sans-serif" font-weight="bold" font-size="11.6" text-anchor="middle">
<text transform="translate(45 36.85) rotate(-90)">RNN</text>
<text transform="translate(41.9 93.15) rotate(-90)">LSTM</text>
<text transform="translate(44.9 148.85) rotate(-90)">TCN</text>
<text transform="translate(45.4 204.55) rotate(-90)">GRU</text>
</g>
<text transform="translate(16.9 122.4) rotate(-90)" text-anchor="middle" font-family="DejaVu Sans, sans-serif" font-size="12" fill="#1a1a1a">River discharge (<tspan font-style="italic">m</tspan><tspan font-size="8.4" dy="-5">3</tspan><tspan dy="5">/</tspan><tspan font-style="italic">s</tspan>)</text>
<text x="283.4" y="260.6" text-anchor="middle" font-family="DejaVu Sans, sans-serif" font-size="11.7" fill="#1a1a1a">Prediction timestep (years)</text>
<path d="M518.2 68.1H524.4" stroke="#1c1c1c" stroke-width="0.8"/>
<path d="M518.2 73.2H524.4" stroke="#2356ff" stroke-width="0.8"/>
<g font-family="DejaVu Sans, sans-serif" font-weight="bold" font-size="3.3" fill="#000" stroke="#000" stroke-width="0.2">
<text x="527.2" y="69.3">Original</text>
<text x="527.2" y="74.4">Prediction</text>
</g>
</svg>
</body></html>
